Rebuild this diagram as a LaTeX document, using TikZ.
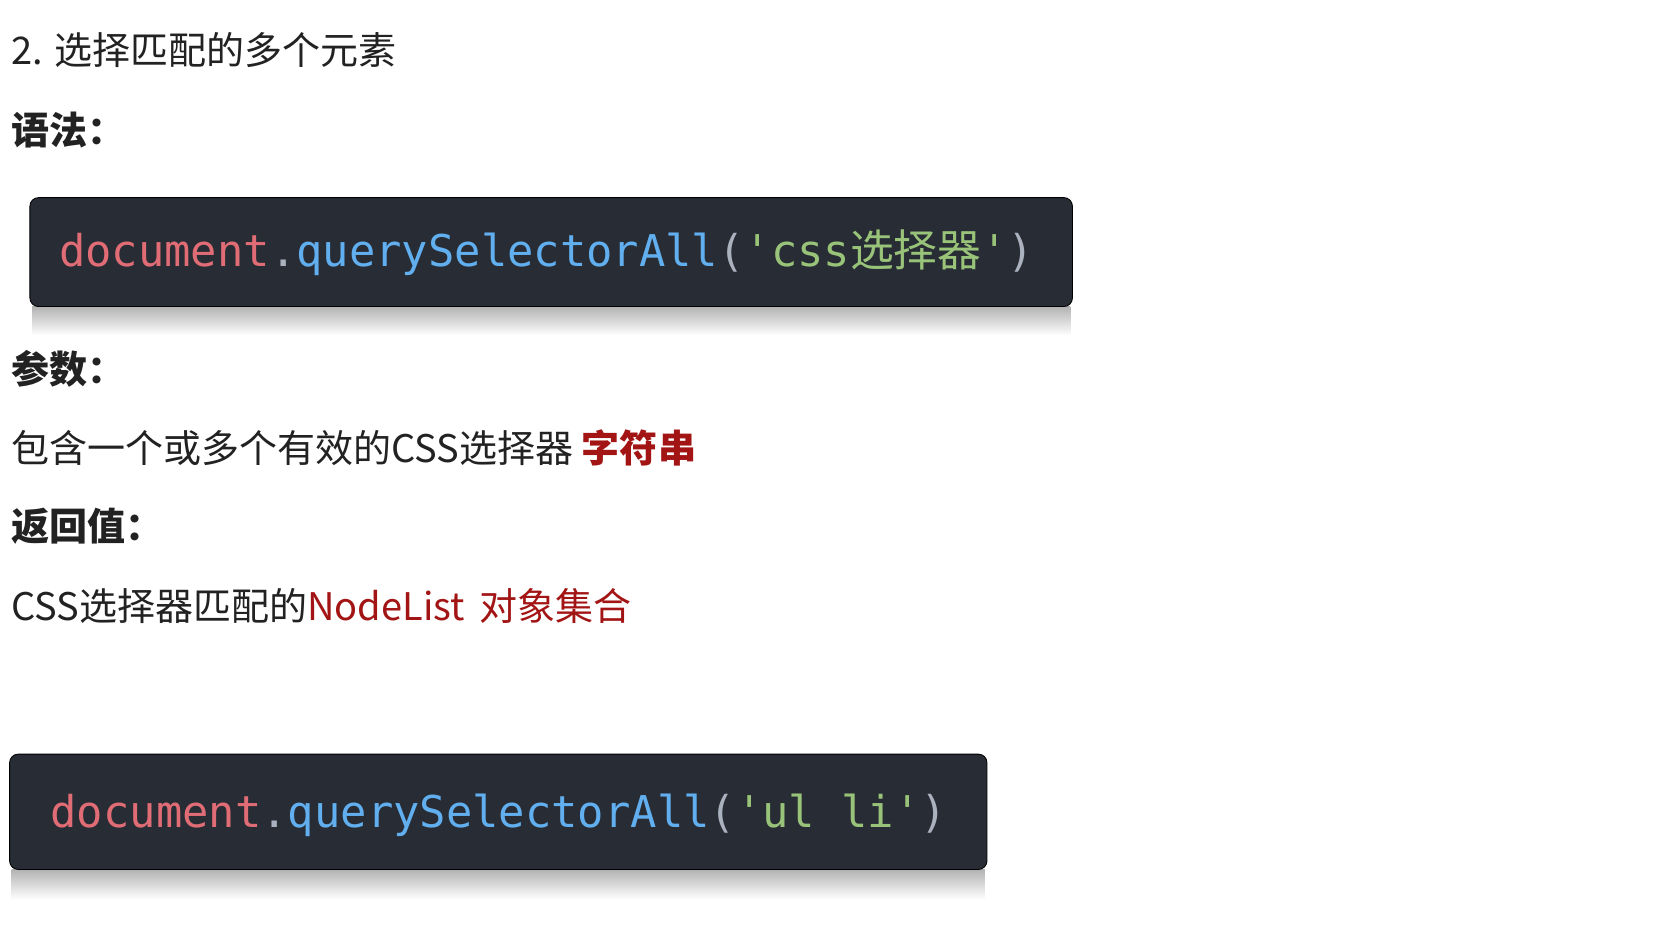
\documentclass[tikz,border=0pt]{standalone}
\usepackage{fontspec}
\setmainfont{Noto Sans CJK SC}
\newfontfamily\cjk{Noto Sans CJK SC}
\newfontfamily\codefont{DejaVu Sans Mono}
\definecolor{codebg}{HTML}{282C34}
\definecolor{cred}{HTML}{E06C75}
\definecolor{cblue}{HTML}{61AFEF}
\definecolor{cgreen}{HTML}{98C379}
\definecolor{cgray}{HTML}{ABB2BF}
\definecolor{dred}{HTML}{A31515}
\definecolor{txt}{HTML}{222222}
\tikzset{
  txtline/.style={anchor=west,inner sep=0pt,font=\fontsize{17.8}{20}\selectfont,text=txt},
  headb/.style={txtline,font=\fontsize{17.8}{20}\selectfont\bfseries},
  codebox/.style={fill=codebg,rounded corners=4pt},
  codetxt/.style={anchor=west,inner sep=0pt,font=\fontsize{20.5}{24}\selectfont\codefont},
}
\begin{document}
\begin{tikzpicture}[x=0.5pt,y=-0.5pt]
\useasboundingbox[fill=white] (0,0) rectangle (1570,866);
\node[txtline] (title) at (10,47) {2. 选择匹配的多个元素};
\node[headb] (syn) at (10,122) {语法：};
% box 1
\shade[top color=black!30,bottom color=white] (30,287) rectangle (1002,314);
\draw[codebox] (28,185) rectangle (1004,287);
\node[codetxt] (c1) at (55,237) {\textcolor{cred}{document}\textcolor{cgray}{.}\textcolor{cblue}{querySelectorAll}\textcolor{cgray}{(}\textcolor{cgreen}{'css{\cjk 选择器}'}\textcolor{cgray}{)}};
\node[headb] (par) at (10,345) {参数：};
\node[txtline] (pdesc) at (10,419) {包含一个或多个有效的CSS选择器 \textcolor{dred}{\bfseries 字符串}};
\node[headb] (ret) at (10,493) {返回值：};
\node[txtline] (rdesc) at (10,567) {CSS选择器匹配的\textcolor{dred}{NodeList\, 对象集合}};
% box 2
\shade[top color=black!30,bottom color=white] (11,814) rectangle (922,842);
\draw[codebox] (9,706) rectangle (924,814);
\node[codetxt] (c2) at (47,763) {\textcolor{cred}{document}\textcolor{cgray}{.}\textcolor{cblue}{querySelectorAll}\textcolor{cgray}{(}\textcolor{cgreen}{'ul li'}\textcolor{cgray}{)}};
\end{tikzpicture}
\end{document}
